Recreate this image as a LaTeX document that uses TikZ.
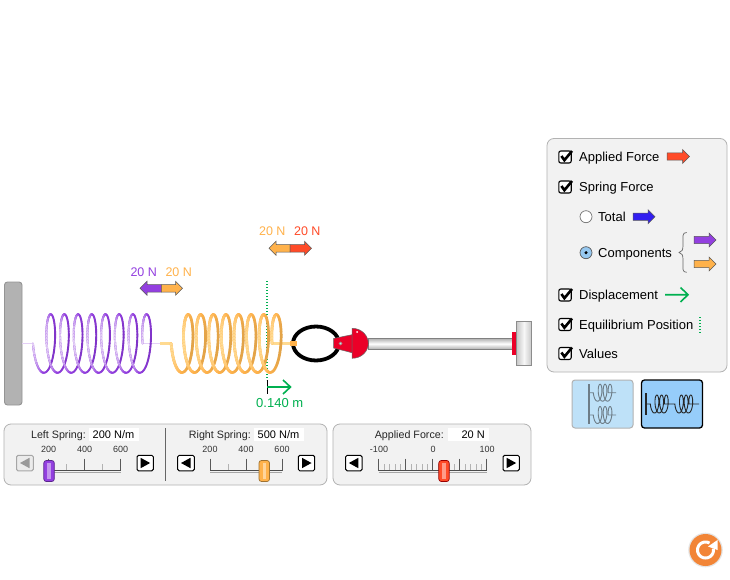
\documentclass[tikz,border=0pt]{standalone}
\usepackage{fontspec}
\setmainfont{Liberation Sans}
\usetikzlibrary{shapes.geometric}
\definecolor{cPurple}{RGB}{147,63,224}
\definecolor{cPurpleL}{RGB}{228,208,246}
\definecolor{cPurpleD}{RGB}{128,52,200}
\definecolor{cOrange}{RGB}{255,178,75}
\definecolor{cOrangeL}{RGB}{255,218,145}
\definecolor{cOrangeD}{RGB}{226,163,72}
\definecolor{cRed}{RGB}{255,75,40}
\definecolor{cBlue}{RGB}{50,30,240}
\definecolor{cGreen}{RGB}{0,176,80}
\definecolor{cCrim}{RGB}{235,0,40}
\definecolor{cPanel}{RGB}{242,242,242}
\definecolor{cEdge}{RGB}{178,178,178}
\definecolor{cViewA}{RGB}{190,225,248}
\definecolor{cViewB}{RGB}{150,205,250}
\definecolor{cReset}{RGB}{242,133,55}
\definecolor{cRadio}{RGB}{150,200,240}
\definecolor{cIconA}{RGB}{110,125,135}
\newcommand{\szf}[1]{\fontsize{#1}{#1}\selectfont}
% x0, pitch, R, H, yc, dark, light, deep, width
\newcommand{\coilspring}[9]{%
  \foreach \tv [evaluate=\tv as \tn using \tv+6,
                evaluate=\tv as \fa using {max(0,-cos(\tv+3))*100},
                evaluate=\tv as \fb using {max(0,cos(\tv+3))*100}] in {180,186,...,3054}{%
    \draw[line width=#9,line cap=round,color={#8!\fb!#6}]
      ({#1+#2*(\tv/360)+#3*cos(\tv)},{#5-#4*sin(\tv)}) --
      ({#1+#2*(\tn/360)+#3*cos(\tn)},{#5-#4*sin(\tn)});
    \ifdim\fa pt>0pt
    \draw[line width=#9,line cap=round,color={#7!\fa!#6}]
      ({#1+#2*(\tv/360)+#3*cos(\tv)},{#5-#4*sin(\tv)}) --
      ({#1+#2*(\tn/360)+#3*cos(\tn)},{#5-#4*sin(\tn)});
    \fi
  }}
% tail x, tip x, y, colour
\newcommand{\farrow}[4]{%
  \pgfmathsetmacro{\dirn}{ifthenelse(#2>#1,1,-1)}
  \draw[fill=#4,draw=black!65,line width=.5pt,line join=miter]
    (#1,#3-3.7) -- ({#2-7*\dirn},#3-3.7) -- ({#2-7*\dirn},#3-7) -- (#2,#3)
    -- ({#2-7*\dirn},#3+7) -- ({#2-7*\dirn},#3+3.7) -- (#1,#3+3.7) -- cycle;}
% x, y centre of check box
\newcommand{\checkbox}[2]{%
  \draw[cbox] (#1-6.2,#2-6) rectangle (#1+6.2,#2+6);
  \draw[line width=2.6pt,line join=miter,black] (#1-3.6,#2-1) -- (#1-.6,#2+3.2) -- (#1+7,#2-6);}
% x1 x2 direction
\newcommand{\stepbtn}[3]{%
  \draw[btn] (#1,455.3) rectangle (#2,470.8);
  \pgfmathsetmacro{\mx}{(#1+#2)/2}
  \fill[black] (\mx+#3*5,463) -- (\mx-#3*4.5,457.8) -- (\mx-#3*4.5,468.2) -- cycle;}
% x left, x right, colour dark, colour mid
\newcommand{\thumb}[4]{%
  \draw[line width=.7pt,draw=#3,fill=#4,rounded corners=2.5pt] (#1,460.5) rectangle (#2,481.5);
  \fill[#4!55!white] ({(#1+#2)/2-1.6},463) rectangle ({(#1+#2)/2+1.6},479);}
\newcommand{\sliderbase}[2]{%
  \draw[line width=.8pt,black!70] (#1,470.6) -- (#2,470.6);
  \draw[line width=.8pt,black!35] (#1,472) -- (#2,472);}
\newcommand{\major}[1]{\draw[line width=.7pt,black!65] (#1,458.5) -- (#1,471);}
\newcommand{\minor}[1]{\draw[line width=.6pt,black!30] (#1,464) -- (#1,471);}
\tikzset{
  x=1pt,y=-1pt,
  panelbox/.style={draw=cEdge,line width=.8pt,fill=cPanel,rounded corners=7pt},
  cbox/.style={draw=black,line width=1.1pt,fill=white,rounded corners=2pt},
  btn/.style={draw=black,line width=1pt,fill=white,rounded corners=1.5pt},
  lbl/.style={inner sep=0pt,anchor=west,font=\szf{13},text height=9.3pt,text depth=0pt},
  slbl/.style={inner sep=0pt,anchor=east,font=\szf{10.7},text=black!85,text height=7.7pt,text depth=0pt},
  val/.style={inner sep=0pt,anchor=east,font=\szf{11},text height=7.9pt,text depth=0pt},
  vbox/.style={draw=none,fill=white,minimum height=12.5pt,inner sep=0pt},
  tickl/.style={inner sep=0pt,anchor=center,font=\szf{9},text=black!80,text height=6.5pt,text depth=0pt},
  force/.style={inner sep=0pt,anchor=center,font=\szf{12.5},text height=9pt,text depth=0pt},
  iconspr/.style={line width=.9pt,smooth},
}
\begin{document}
\begin{tikzpicture}
\useasboundingbox (0,0) rectangle (730,580);
\fill[white] (0,0) rectangle (730,580);
% wall
\draw[draw=black!42,fill=black!30,line width=.9pt,rounded corners=3pt] (4.5,282) rectangle (22,405);
% equilibrium line
\draw[cGreen,line width=1.3pt,dash pattern=on 1.3pt off 1.7pt] (267,281) -- (267,380);
% connectors
\draw[cPurpleL,line width=1.8pt] (22,343.5) -- (33.5,343.5);
\draw[cPurpleL,line width=1.8pt] (142.5,343.5) -- (160,343.5);
\draw[cOrangeL,line width=2.4pt] (160,343.5) -- (172,343.5);
\draw[cOrangeL,line width=2.4pt] (271.5,343.5) -- (291,343.5);
% springs
\coilspring{33.6}{13.7}{7.5}{29.3}{343.5}{cPurple}{cPurpleL}{cPurpleD}{1.9pt}
\coilspring{172.5}{12.6}{7.6}{29}{343.5}{cOrange}{cOrangeL}{cOrangeD}{2.7pt}
% displacement
\draw[black,line width=1pt] (267,380) -- (267,394);
\draw[cGreen,line width=1.6pt,line join=miter] (267,387) -- (290,387) (283,380) -- (290.5,387) -- (283,394);
\node[force,text=cGreen,font=\szf{13}] (dispval) at (279.7,403) {0.140 m};
% forces
\farrow{161.3}{140}{288.3}{cPurple}
\farrow{161.3}{182.5}{288.3}{cOrange}
\node[force,text=cPurple] (lf) at (143.7,271.5) {20 N};
\node[force,text=cOrange] (rf) at (178.7,271.5) {20 N};
\farrow{290}{269}{248.3}{cOrange}
\farrow{290}{311.5}{248.3}{cRed}
\node[force,text=cOrange] (sf) at (272.3,231) {20 N};
\node[force,text=cRed] (af) at (307.3,231) {20 N};
% ring and handle
\draw[black,line width=3.8pt] (316,343.5) ellipse (23 and 17);
\fill[cOrange] (290,341) rectangle (297,346);
\draw[draw=black!60,fill=cCrim,line width=.5pt] (333.5,338.5) -- (352,334.7) -- (352,352.7) -- (333.5,348) -- cycle;
\draw[draw=black!40,fill=black!15,line width=.5pt] (340.5,343.5) circle (1.5);
\draw[top color=black!30,bottom color=black!30,middle color=white,draw=black!50,line width=.5pt] (368,338.5) rectangle (513,349);
\draw[draw=black!60,fill=cCrim,line width=.5pt] (352,328.3) .. controls (362,328.3) and (368.3,336) .. (368.3,343.3) .. controls (368.3,351) and (362,358.3) .. (352,358.3) -- cycle;
\fill[white] (357,332) circle (1);
\fill[cCrim] (512,332.3) rectangle (517,354.5);
\draw[left color=black!22,right color=black!22,middle color=black!3,draw=black!45,line width=.6pt] (516.5,321.3) rectangle (531.5,365.5);
% options panel
\draw[panelbox] (547,138.5) rectangle (727,372);
\checkbox{565}{157}
\checkbox{565}{187}
\checkbox{565}{295}
\checkbox{565}{324.5}
\checkbox{565}{353.5}
\node[lbl] (tapp) at (579,156.5) {Applied Force};
\node[lbl] (tspr) at (579,186.5) {Spring Force};
\node[lbl] (ttot) at (598,216.5) {Total};
\node[lbl] (tcomp) at (598,252.5) {Components};
\node[lbl] (tdisp) at (579,294.5) {Displacement};
\node[lbl] (teq) at (579,324.5) {Equilibrium Position};
\node[lbl] (tval) at (579,353.5) {Values};
\farrow{667}{689.5}{156.5}{cRed}
\farrow{633}{655}{216.7}{cBlue}
\farrow{694}{716}{240}{cPurple}
\farrow{694}{716}{264}{cOrange}
\draw[black!55,line width=.7pt,fill=white] (586,216.7) circle (6);
\draw[draw=black!65,fill=cRadio,line width=.7pt] (586,252.7) circle (6);
\fill[black] (586,252.7) circle (1.7);
\draw[black!60,line width=.7pt] (686.7,232.5) .. controls (682,232.5) and (683,236) .. (683,245) .. controls (683,250) and (682,252) .. (679,252.5) .. controls (682,253) and (683,255) .. (683,260) .. controls (683,269) and (682,272.3) .. (686.7,272.3);
\draw[cGreen,line width=1.6pt,line join=miter] (665,294.7) -- (687.5,294.7) (680.5,287.5) -- (688,294.7) -- (680.5,302);
\draw[cGreen,line width=1.3pt,dash pattern=on 1.3pt off 1.7pt] (700,317) -- (700,332.5);
% view buttons
\draw[draw=black!30,fill=cViewA,line width=1pt,rounded corners=3pt] (572,380) rectangle (633,428);
\draw[draw=black,fill=cViewB,line width=1.3pt,rounded corners=3pt] (641.5,380) rectangle (702.5,428);
\begin{scope}[cIconA,iconspr]
\draw[line width=1.1pt] (589,384) -- (589,424);
\draw (589,392.7) -- plot[domain=180:1260,samples=90] ({593.8+5*(\x/360)+3*cos(\x)},{392.7-8.5*sin(\x)}) -- (616,392.7);
\draw (589,415) -- plot[domain=180:1260,samples=90] ({593.8+5*(\x/360)+3*cos(\x)},{415-8.5*sin(\x)}) -- (616,415);
\end{scope}
\begin{scope}[black!85,iconspr]
\draw[line width=1.1pt] (646,393) -- (646,415);
\draw (646,404) -- plot[domain=180:1260,samples=90] ({651+4.7*(\x/360)+3*cos(\x)},{404-9*sin(\x)}) -- plot[domain=180:1260,samples=90] ({675.5+4.7*(\x/360)+3*cos(\x)},{404-9*sin(\x)}) -- (699,404);
\end{scope}
% slider panels
\draw[panelbox] (4,424) rectangle (327,485);
\draw[panelbox] (333,424) rectangle (531,485);
\draw[black!60,line width=.8pt] (165.5,428) -- (165.5,481);
% left spring slider
\node[slbl] (tleft) at (86,434.7) {Left Spring:};
\node[vbox,minimum width=50pt] (bleft) at (114,434.7) {};
\node[val] (vleft) at (134.5,434.7) {200 N/m};
\node[tickl] (l1) at (48.7,449.7) {200};
\node[tickl] (l2) at (84.7,449.7) {400};
\node[tickl] (l3) at (120.7,449.7) {600};
\major{48.7}\major{84.7}\major{120.7}\minor{66.7}\minor{102.7}
\sliderbase{48.7}{120.7}
\thumb{43.8}{54.3}{cPurpleD!70!black}{cPurple}
\draw[draw=black!35,line width=1pt,fill=black!8,rounded corners=1.5pt] (16.5,455.3) rectangle (33.3,470.8);
\fill[black!40] (20,463) -- (29.5,457.8) -- (29.5,468.2) -- cycle;
\stepbtn{137}{153.3}{1}
% right spring slider
\node[slbl] (tright) at (251,434.7) {Right Spring:};
\node[vbox,minimum width=50pt] (bright) at (279,434.7) {};
\node[val] (vright) at (299.5,434.7) {500 N/m};
\node[tickl] (r1) at (210,449.7) {200};
\node[tickl] (r2) at (246,449.7) {400};
\node[tickl] (r3) at (282,449.7) {600};
\major{210}\major{246}\major{282}\minor{228}\minor{264}
\sliderbase{210}{282}
\thumb{259}{269.5}{cOrangeD!70!black}{cOrange}
\stepbtn{177.7}{194.3}{-1}
\stepbtn{298.3}{314.7}{1}
% applied force slider
\node[slbl] (tforce) at (444,434.7) {Applied Force:};
\node[vbox,minimum width=41.5pt] (bforce) at (468.5,434.7) {};
\node[val] (vforce) at (485,434.7) {20 N};
\node[tickl] (f1) at (379,449.7) {-100};
\node[tickl] (f2) at (433,449.7) {0};
\node[tickl] (f3) at (487,449.7) {100};
\foreach \mm in {378.7,405.7,432.7,459.7,486.7}{\major{\mm}}
\foreach \mi in {384.1,389.5,394.9,400.3,411.1,416.5,421.9,427.3,438.1,443.5,448.9,454.3,465.1,470.5,475.9,481.3}{\minor{\mi}}
\sliderbase{378.7}{486.7}
\thumb{438.8}{449.2}{red!60!black}{cRed}
\stepbtn{345.7}{362}{-1}
\stepbtn{503}{519.3}{1}
% restart
\fill[black!10] (705.5,550) circle (17.3);
\fill[cReset] (705.5,550) circle (16);
\draw[white,line width=3pt] plot[domain=60:370,samples=50,smooth] ({705.5+8*cos(\x)},{550-8*sin(\x)});
\fill[white] (708,546.5) -- (717.5,540) -- (717.5,550) -- cycle;
\end{tikzpicture}
\end{document}
